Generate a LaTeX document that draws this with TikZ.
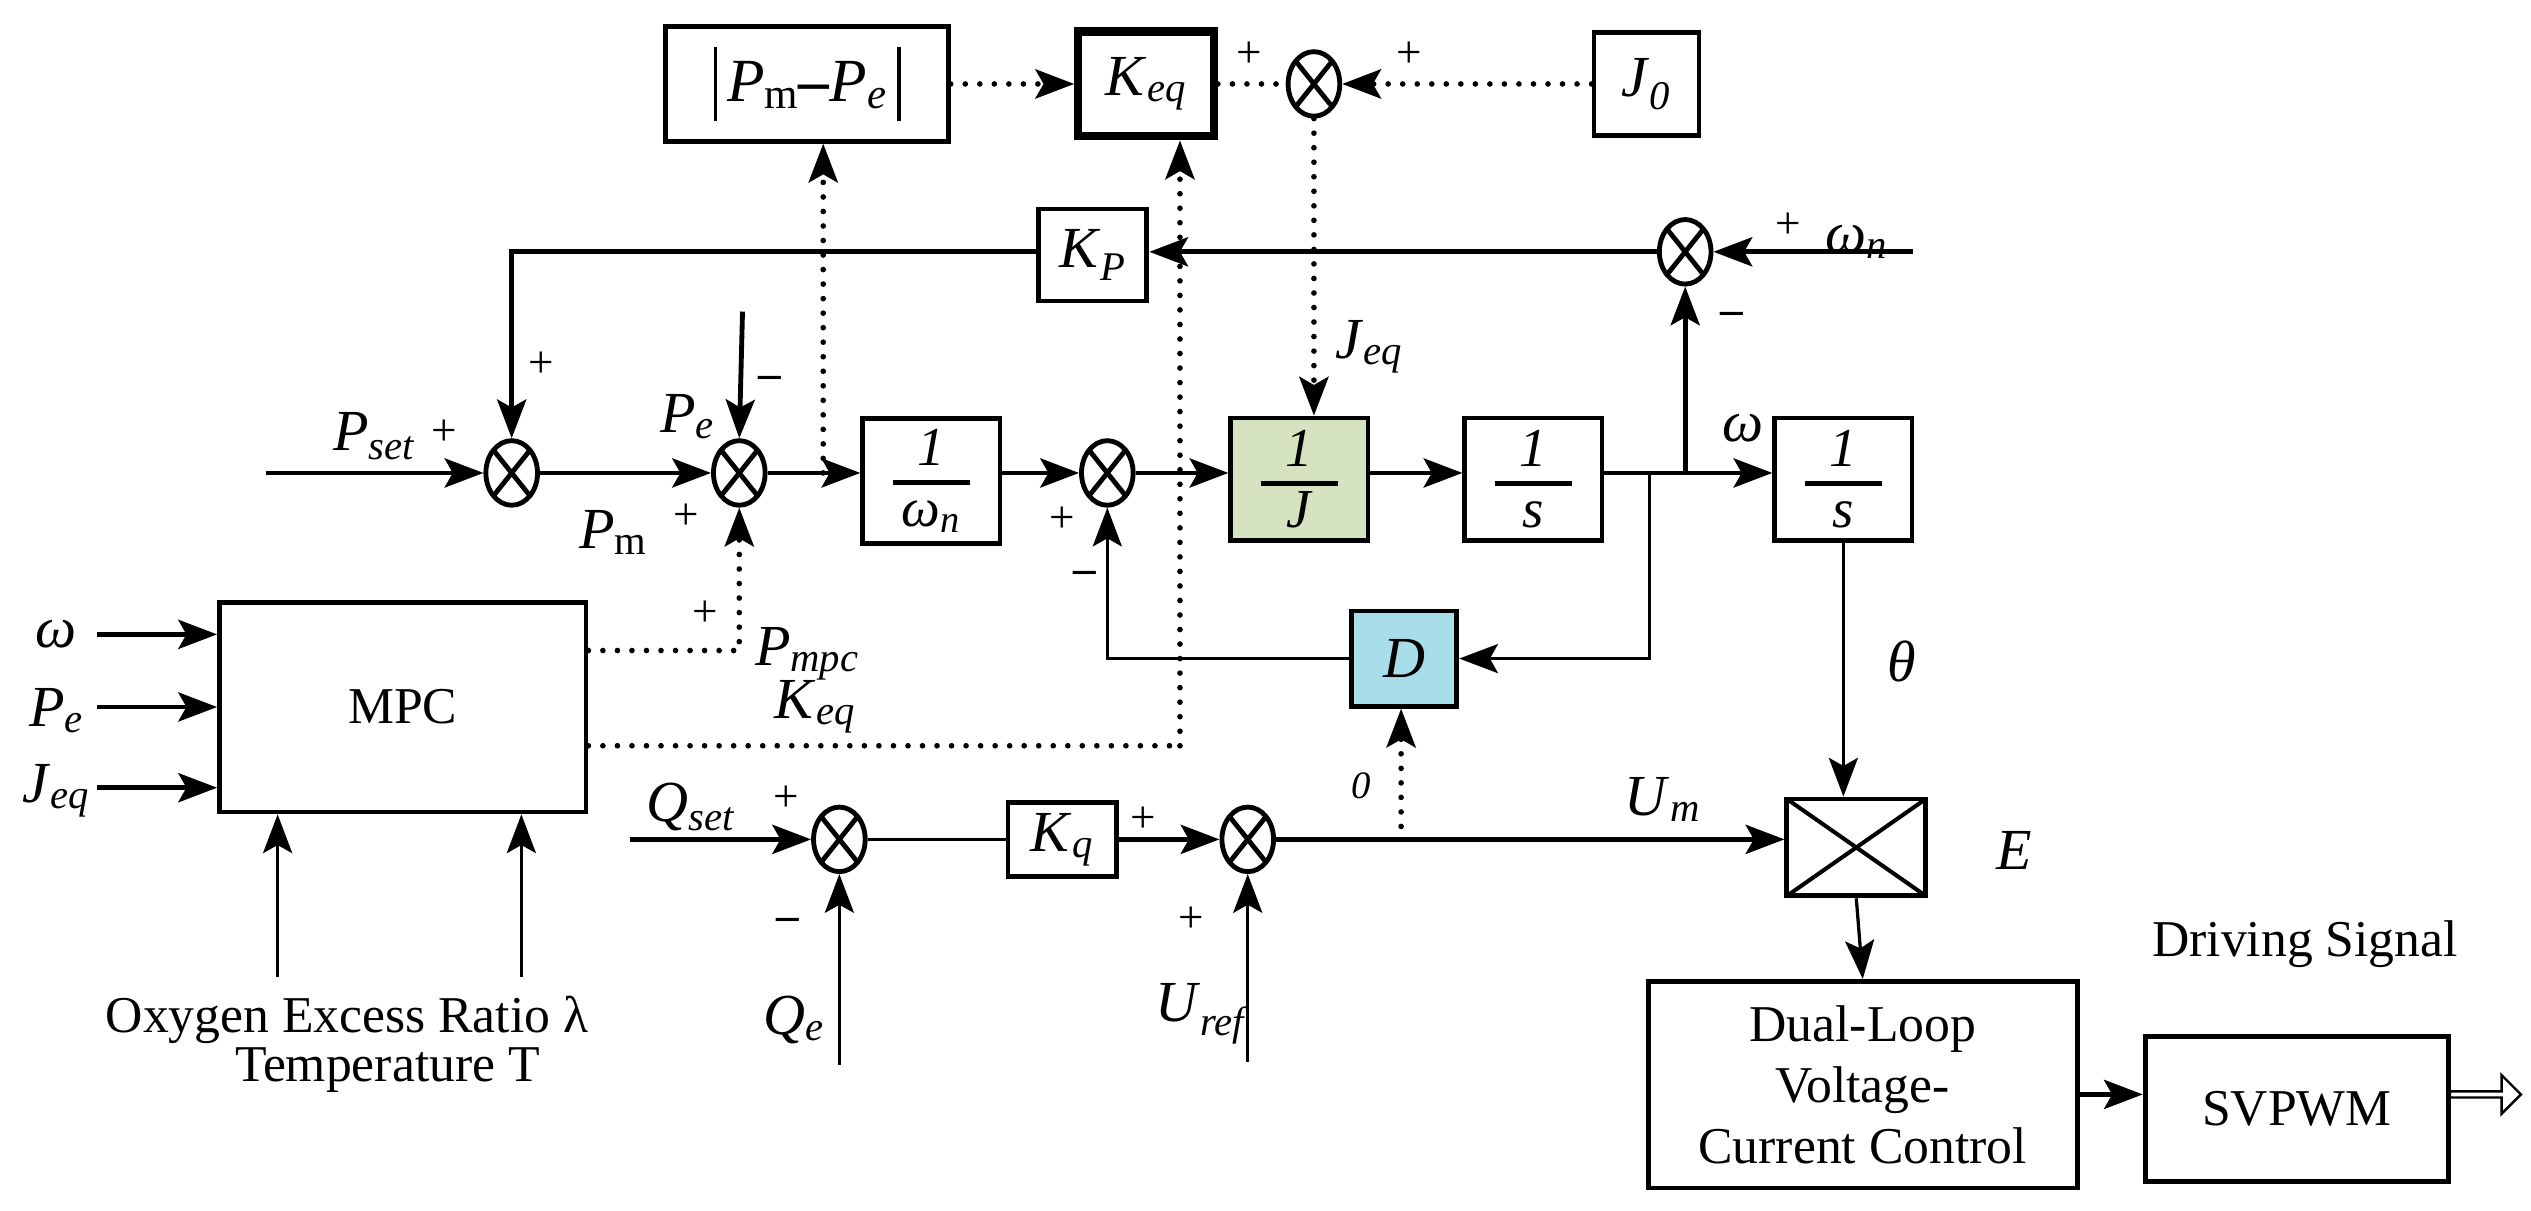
\documentclass[tikz,border=0pt]{standalone}
\usepackage{fontspec}
\setmainfont{Liberation Serif}
\usetikzlibrary{arrows.meta,shapes.geometric,shapes.arrows,calc}
\newcommand\vr[2]{\textit{#1}\textsubscript{\textit{#2}}}
\newcommand\frc[2]{\textit{#1}\\[-18pt]\rule{48pt}{3pt}\\[-4pt]#2}
\begin{document}
\begin{tikzpicture}[x=1pt,y=-1pt,
  every node/.style={font=\fontsize{32}{38}\selectfont},
  box/.style={draw,line width=3pt,inner sep=0pt},
  tbox/.style={box,line width=5pt},
  fr/.style={align=center,font=\fontsize{34}{30}\selectfont},
  sum/.style={draw,ellipse,line width=3pt,minimum width=32pt,minimum height=40pt,inner sep=0pt,
    path picture={\draw[line width=3pt,shift={(path picture bounding box.center)}] (-12,-15)--(12,15) (-12,15)--(12,-15);}},
  ln/.style={line width=3pt},
  thin/.style={line width=2pt},
  ar/.style={-{Stealth[length=24pt,width=18pt,inset=5pt]}},
  dt/.style={line width=3.5pt,line cap=round,dash pattern=on 0pt off 9pt},
  lab/.style={font=\fontsize{36}{40}\selectfont},
  pm/.style={font=\fontsize{28}{30}\selectfont}]
\useasboundingbox (0,0) rectangle (1568,750);
% boxes
\node[box,minimum width=175pt,minimum height=71pt,font=\fontsize{38}{40}\selectfont] (pmpe) at (500,52) {\raisebox{-12pt}{\rule{2pt}{46pt}}\,\textit{P}\textsubscript{m}\textbf{--}\vr{P}{e}\,\raisebox{-12pt}{\rule{2pt}{46pt}}};
\node[tbox,minimum width=84pt,minimum height=65pt,lab] (keq) at (710,52) {\vr{K}{eq}};
\node[sum] (s5) at (814,52) {};
\node[box,minimum width=65pt,minimum height=64pt,lab] (j0) at (1020,52) {\vr{J}{0}};
\node[box,minimum width=67pt,minimum height=57pt,lab] (kp) at (677,158) {\vr{K}{P}};
\node[sum] (s4) at (1044,156) {};
\node[sum] (s1) at (317,293) {};
\node[sum] (s2) at (458,293) {};
\node[box,fr,minimum width=85pt,minimum height=77pt] (b1) at (577,298) {\frc{1}{\textit{ω}\textsubscript{\textit{n}}}};
\node[sum] (s3) at (686,293) {};
\node[box,fr,fill={rgb,255:red,214;green,227;blue,192},minimum width=85pt,minimum height=76pt] (bj) at (805,297) {\frc{1}{\textit{J}}};
\node[box,fr,minimum width=85pt,minimum height=76pt] (bs1) at (950,297) {\frc{1}{\textit{s}}};
\node[box,fr,minimum width=85pt,minimum height=76pt] (bs2) at (1142,297) {\frc{1}{\textit{s}}};
\node[box,lab,fill={rgb,255:red,168;green,222;blue,234},minimum width=65pt,minimum height=59pt] (d) at (870,408) {\textit{D}};
\node[box,minimum width=227pt,minimum height=130pt] (mpc) at (249.5,438) {MPC};
\node[sum] (s6) at (520,520) {};
\node[box,lab,minimum width=67pt,minimum height=46pt] (kq) at (658,520) {\vr{K}{q}};
\node[sum] (s7) at (773,520) {};
\node[box,minimum width=86pt,minimum height=60pt,
  path picture={\draw[line width=2.5pt] (path picture bounding box.north west)--(path picture bounding box.south east) (path picture bounding box.south west)--(path picture bounding box.north east);}] (e) at (1150,525) {};
\node[box,minimum width=266pt,minimum height=128pt,align=center] (dl) at (1154,672) {Dual-Loop\\Voltage-\\Current Control};
\node[box,minimum width=188pt,minimum height=90pt] (sv) at (1423,687) {SVPWM};
\node[single arrow,draw,line width=1.5pt,minimum height=44pt,minimum width=24pt,single arrow head extend=4pt,inner sep=0pt,anchor=west] (out) at (1517,678) {};
% coordinates
\coordinate (pset) at (165,293);
\coordinate (pein) at (460,193);
\coordinate (wn) at (1185,156);
\coordinate (c1) at (1022,293);
\coordinate (c2) at (1044,293);
\coordinate (c3) at (510,293);
\coordinate (kpc) at (317,156);
\coordinate (mp) at (458,403);
\coordinate (mk) at (731,462);
\coordinate (zero) at (868,512);
\coordinate (qset) at (390,520);
\coordinate (qe) at (520,660);
\coordinate (uref) at (773,658);
\coordinate (o1) at (172,605);
\coordinate (o2) at (323,605);
\coordinate (iw) at (60,393);
\coordinate (ip) at (60,438);
\coordinate (ij) at (60,488);
% solid connectors
\draw[ln,ar] (pset) -- (s1.west);
\draw[ln,ar] (s1.east) -- (s2.west);
\draw[ln,ar] (s2.east) -- (s2.east -| b1.west);
\draw[ln,ar] (b1.east |- s3) -- (s3.west);
\draw[ln,ar] (s3.east) -- (s3.east -| bj.west);
\draw[ln,ar] (bj.east |- s3) -- (s3 -| bs1.west);
\draw[ln,ar] (bs1.east |- s3) -- (s3 -| bs2.west);
\draw[ln,ar] (pein) -- (s2.north);
\draw[ln,ar] (c2) -- (s4.south);
\draw[ln,ar] (wn) -- (s4.east);
\draw[ln,ar] (s4.west) -- (kp.east |- s4);
\draw[ln,ar] (kp.west |- s4) -- (kpc) -- (s1.north);
\draw[thin,ar] (c1) |- (d.east);
\draw[thin,ar] (d.west) -| (s3.south);
\draw[ln,ar] (iw) -- (iw -| mpc.west);
\draw[ln,ar] (ip) -- (ip -| mpc.west);
\draw[ln,ar] (ij) -- (ij -| mpc.west);
\draw[thin,ar] (o1) -- (o1 |- mpc.south);
\draw[thin,ar] (o2) -- (o2 |- mpc.south);
\draw[ln,ar] (qset) -- (s6.west);
\draw[thin] (s6.east) -- (kq.west);
\draw[ln,ar] (kq.east) -- (s7.west);
\draw[ln,ar] (s7.east) -- (s7 -| e.west);
\draw[thin,ar] (qe) -- (s6.south);
\draw[thin,ar] (uref) -- (s7.south);
\draw[thin,ar] (bs2.south) -- (bs2.south |- e.north);
\draw[thin,ar] (e.south) -- (dl.north);
\draw[ln,ar] (dl.east |- out) -- (sv.west |- out);
% dotted connectors
\draw[dt,ar] (c3) -- (c3 |- pmpe.south);
\draw[dt,ar] (pmpe.east) -- (keq.west);
\draw[dt] (keq.east) -- (s5.west);
\draw[dt,ar] (j0.west) -- (s5.east);
\draw[dt,ar] (s5.south) -- (s5.south |- bj.north);
\draw[dt,ar] (mpc.east |- mp) -- (mp) -- (s2.south);
\draw[dt] (mpc.east |- mk) -- (mk);
\draw[dt,ar] (mk) -- (mk |- keq.south);
\draw[dt,ar] (zero) -- (zero |- d.south);
% labels
\node[lab] at (232,270) {\vr{P}{set}};
\node[pm] at (275,268) {+};
\node[pm] at (335,226) {+};
\node[lab] at (426,258) {\vr{P}{e}};
\node[pm] at (477,237) {\textbf{--}};
\node[lab] at (380,330) {\textit{P}\textsubscript{m}};
\node[pm] at (425,320) {+};
\node[pm] at (437,380) {+};
\node[lab] at (500,405) {\vr{P}{mpc}};
\node[lab] at (505,438) {\vr{K}{eq}};
\node[pm] at (658,322) {+};
\node[pm] at (672,358) {\textbf{--}};
\node[pm] at (774,34) {+};
\node[pm] at (873,34) {+};
\node[lab] at (848,215) {\vr{J}{eq}};
\node[pm] at (1108,140) {+};
\node[lab] at (1150,150) {\vr{ω}{n}};
\node[pm] at (1073,197) {\textbf{--}};
\node[lab] at (1080,265) {\textit{ω}};
\node[lab] at (1178,410) {\textit{θ}};
\node[lab] at (35,393) {\textit{ω}};
\node[lab] at (35,440) {\vr{P}{e}};
\node[lab] at (35,490) {\vr{J}{eq}};
\node at (215,632) {Oxygen Excess Ratio λ};
\node at (240,663) {Temperature T};
\node[lab] at (428,500) {\vr{Q}{set}};
\node[pm] at (487,495) {+};
\node[pm] at (488,573) {\textbf{--}};
\node[lab] at (492,632) {\vr{Q}{e}};
\node[pm] at (708,508) {+};
\node[pm] at (738,570) {+};
\node[lab] at (745,628) {\vr{U}{ref}};
\node[font=\fontsize{24}{26}\selectfont\itshape] at (843,487) {0};
\node[lab] at (1030,495) {\vr{U}{m}};
\node[lab] at (1248,527) {\textit{E}};
\node at (1428,585) {Driving Signal};
\end{tikzpicture}
\end{document}
